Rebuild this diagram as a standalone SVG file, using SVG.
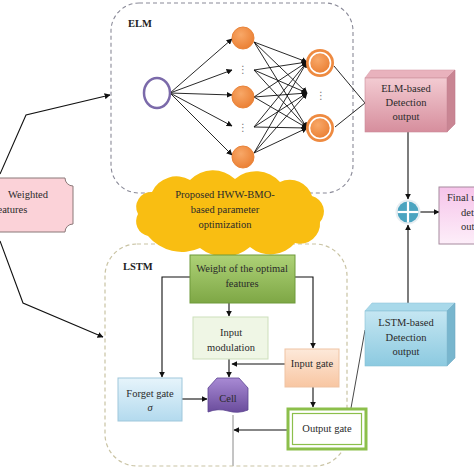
<svg xmlns="http://www.w3.org/2000/svg" width="474" height="474" viewBox="0 0 474 474">
<style>
text{font-family:"Liberation Serif","Times New Roman",serif;font-size:10.5px;fill:#2a2a2a}
.c{text-anchor:middle}
.b{font-weight:bold;fill:#222}
.ln{stroke:#111;stroke-width:1.1;fill:none}
.nn{stroke:#111;stroke-width:0.9;fill:none}
.nnA{stroke:#111;stroke-width:0.9;fill:none;marker-end:url(#ah)}
.arr{stroke:#111;stroke-width:1.1;fill:none;marker-end:url(#ah)}
.dots{font-family:"DejaVu Sans",sans-serif;font-size:10px;fill:#777}
</style>
<defs>
<marker id="ah" viewBox="0 0 10 10" refX="9" refY="5" markerWidth="6" markerHeight="6" markerUnits="userSpaceOnUse" orient="auto"><path d="M0,0 L10,5 L0,10 Z" fill="#111"/></marker>
<radialGradient id="orange" cx="0.4" cy="0.35" r="0.7"><stop offset="0" stop-color="#f8a868"/><stop offset="1" stop-color="#ea7e32"/></radialGradient>
<linearGradient id="pinkF" x1="0" y1="0" x2="0" y2="1"><stop offset="0" stop-color="#f3cbd2"/><stop offset="1" stop-color="#d68e9d"/></linearGradient>
<linearGradient id="blueF" x1="0" y1="0" x2="0" y2="1"><stop offset="0" stop-color="#c5e6f2"/><stop offset="1" stop-color="#8ccae0"/></linearGradient>
<linearGradient id="finalF" x1="0" y1="0" x2="0" y2="1"><stop offset="0" stop-color="#f6c4ea"/><stop offset="1" stop-color="#fdeef9"/></linearGradient>
<linearGradient id="greenF" x1="0" y1="0" x2="0" y2="1"><stop offset="0" stop-color="#aed277"/><stop offset="1" stop-color="#7ea745"/></linearGradient>
<linearGradient id="peachF" x1="0" y1="0" x2="0" y2="1"><stop offset="0" stop-color="#fde9da"/><stop offset="1" stop-color="#f8c6a2"/></linearGradient>
<linearGradient id="skyF" x1="0" y1="0" x2="0" y2="1"><stop offset="0" stop-color="#e6f4fb"/><stop offset="1" stop-color="#b3daee"/></linearGradient>
<linearGradient id="cellF" x1="0" y1="0" x2="0" y2="1"><stop offset="0" stop-color="#a88ad4"/><stop offset="1" stop-color="#6a4c9c"/></linearGradient>
</defs>

<rect width="474" height="474" fill="#ffffff"/>

<!-- ELM container -->
<g id="elm-box">
<rect x="111" y="3" width="242" height="190" rx="28" fill="none" stroke="#8a8a98" stroke-width="1.1" stroke-dasharray="4 3"/>
<text x="128" y="27" class="b">ELM</text>
</g>

<!-- connectors -->
<g id="connectors">
<polyline class="arr" points="0,174 26,115 110,95"/>
<polyline class="arr" points="0,241 23,303 103,337"/>
<line class="nnA" x1="170" y1="93" x2="232" y2="39"/>
<line class="nnA" x1="170" y1="93" x2="232" y2="70"/>
<line class="nnA" x1="170" y1="93" x2="232" y2="95"/>
<line class="nnA" x1="170" y1="93" x2="232" y2="126"/>
<line class="nnA" x1="170" y1="93" x2="232" y2="155"/>
<g>
<line class="nnA" x1="254" y1="42" x2="307" y2="62"/>
<line class="nnA" x1="254" y1="42" x2="307" y2="93"/>
<line class="nnA" x1="254" y1="42" x2="307" y2="128"/>
<line class="nnA" x1="254" y1="70" x2="307" y2="62"/>
<line class="nnA" x1="254" y1="70" x2="307" y2="93"/>
<line class="nnA" x1="254" y1="70" x2="307" y2="128"/>
<line class="nnA" x1="254" y1="97" x2="307" y2="62"/>
<line class="nnA" x1="254" y1="97" x2="307" y2="93"/>
<line class="nnA" x1="254" y1="97" x2="307" y2="128"/>
<line class="nnA" x1="254" y1="127" x2="307" y2="62"/>
<line class="nnA" x1="254" y1="127" x2="307" y2="93"/>
<line class="nnA" x1="254" y1="127" x2="307" y2="128"/>
<line class="nnA" x1="254" y1="153" x2="307" y2="62"/>
<line class="nnA" x1="254" y1="153" x2="307" y2="93"/>
<line class="nnA" x1="254" y1="153" x2="307" y2="128"/>
</g>
<polyline class="nn" points="334,66 365,103 335,127"/>
<line class="arr" x1="408" y1="132" x2="408" y2="199"/>
<line class="arr" x1="408" y1="303" x2="408" y2="225"/>
<line class="arr" x1="420" y1="212" x2="439" y2="212"/>
<polyline class="arr" points="190,277 162,277 162,377"/>
<line class="arr" x1="229" y1="303" x2="229" y2="316"/>
<polyline class="arr" points="295,277 313,277 313,348"/>
<line class="arr" x1="229" y1="359" x2="229" y2="377"/>
<line class="arr" x1="285" y1="364" x2="232" y2="364"/>
<line class="arr" x1="313" y1="387" x2="313" y2="407"/>
<line class="arr" x1="182" y1="399" x2="207" y2="399"/>
<line class="arr" x1="287" y1="430" x2="234" y2="430"/>
<line x1="233" y1="415" x2="233" y2="466" stroke="#8a8a8a" stroke-width="1"/>
<line x1="351" y1="408" x2="365" y2="330" stroke="#333" stroke-width="0.9"/>
</g>

<g id="input-neuron">
<ellipse cx="157" cy="93" rx="13" ry="15" fill="#ffffff" stroke="#7b6aaa" stroke-width="2.5"/>
</g>
<g id="hidden-neurons">
<circle cx="243" cy="38" r="11" fill="url(#orange)" stroke="#e9843a" stroke-width="1"/>
<circle cx="243" cy="97" r="11" fill="url(#orange)" stroke="#e9843a" stroke-width="1"/>
<circle cx="243" cy="157" r="11" fill="url(#orange)" stroke="#e9843a" stroke-width="1"/>
<text x="243" y="73" class="c dots">⋮</text>
<text x="243" y="131" class="c dots">⋮</text>
</g>
<g id="output-neurons">
<circle cx="320" cy="63" r="14" fill="#ee8a40"/>
<circle cx="320" cy="63" r="10.5" fill="url(#orange)" stroke="#ffffff" stroke-width="1.6"/>
<circle cx="320" cy="128" r="14" fill="#ee8a40"/>
<circle cx="320" cy="128" r="10.5" fill="url(#orange)" stroke="#ffffff" stroke-width="1.6"/>
<text x="321" y="99" class="c dots">⋮</text>
</g>

<g id="weighted-features">
<path d="M-10,178 L65,178 A8,8 0 0 0 73,186 L73,224 A8,8 0 0 0 65,232 L-10,232 Z" fill="#fbd2d8" stroke="#8a7878" stroke-width="1"/>
<text x="8" y="198">Weighted</text>
<text x="-6" y="213">features</text>
</g>

<g id="lstm-box">
<rect x="105" y="244" width="242" height="222" rx="32" fill="none" stroke="#c9c3a3" stroke-width="1.2" stroke-dasharray="4 3"/>
<text x="123" y="270" class="b">LSTM</text>
</g>

<g id="optimization-cloud">
<path d="M148,236 A15,15 0 0 1 138,214 A15,15 0 0 1 152,192 A27,27 0 0 1 190,180 A32,32 0 0 1 235,179 A32,32 0 0 1 280,182 A23,23 0 0 1 312,196 A16,16 0 0 1 320,222 A20,20 0 0 1 295,243 A32,32 0 0 1 250,247 A39,39 0 0 1 200,248 A44,44 0 0 1 148,236 Z" fill="#f9be12"/>
<text x="225" y="198" class="c">Proposed HWW-BMO-</text>
<text x="225" y="213" class="c">based parameter</text>
<text x="225" y="228" class="c">optimization</text>
</g>

<g id="elm-output">
<polygon points="365,78 371,70 455,70 447,78" fill="#e9b2bd" stroke="#d9a0ab" stroke-width="0.6"/>
<polygon points="447,78 455,70 455,124 447,132" fill="#c98593" stroke="#c07a8a" stroke-width="0.6"/>
<rect x="365" y="78" width="82" height="54" fill="url(#pinkF)" stroke="#c98a98" stroke-width="0.6"/>
<text x="406" y="92" class="c">ELM-based</text>
<text x="406" y="106" class="c">Detection</text>
<text x="406" y="120" class="c">output</text>
</g>

<g id="lstm-output">
<polygon points="365,311 372,303 455,303 447,311" fill="#a9d9ea" stroke="#94c8dc" stroke-width="0.6"/>
<polygon points="447,311 455,303 455,358 447,366" fill="#78b6ce" stroke="#6eaac4" stroke-width="0.6"/>
<rect x="365" y="311" width="82" height="55" fill="url(#blueF)" stroke="#86bfd4" stroke-width="0.6"/>
<text x="406" y="326" class="c">LSTM-based</text>
<text x="406" y="341" class="c">Detection</text>
<text x="406" y="355" class="c">output</text>
</g>

<g id="combiner">
<circle cx="408" cy="212" r="12.5" fill="#e8eef2"/>
<circle cx="408" cy="212" r="10.5" fill="#4ba4c0"/>
<line x1="397.5" y1="212" x2="418.5" y2="212" stroke="#ffffff" stroke-width="2.2"/>
<line x1="408" y1="201.5" x2="408" y2="222.5" stroke="#ffffff" stroke-width="2.2"/>
</g>

<g id="final-output">
<rect x="439" y="187" width="45" height="57" fill="url(#finalF)" stroke="#a68a9e" stroke-width="1"/>
<text x="447" y="201">Final u</text>
<text x="461" y="216">det</text>
<text x="461" y="230">out</text>
</g>

<g id="weight-optimal">
<rect x="190" y="255" width="105" height="48" fill="url(#greenF)" stroke="#6e9a3a" stroke-width="1"/>
<text x="242" y="272" class="c">Weight of the optimal</text>
<text x="242" y="287" class="c">features</text>
</g>
<g id="input-modulation">
<rect x="193" y="317" width="75" height="42" fill="#eff6e5" stroke="#cddfbb" stroke-width="1"/>
<text x="231" y="336" class="c">Input</text>
<text x="231" y="351" class="c">modulation</text>
</g>
<g id="input-gate">
<rect x="285" y="349" width="54" height="38" fill="url(#peachF)" stroke="#efc3a3" stroke-width="1"/>
<text x="312" y="367" class="c">Input gate</text>
</g>
<g id="output-gate">
<rect x="288" y="409" width="78" height="40" fill="#ffffff" stroke="#8cbf4b" stroke-width="3"/>
<rect x="292.5" y="413.5" width="69" height="31" fill="none" stroke="#8cbf4b" stroke-width="1.2"/>
<text x="327" y="432" class="c">Output gate</text>
</g>
<g id="forget-gate">
<rect x="118" y="378" width="64" height="43" fill="url(#skyF)" stroke="#9fc7db" stroke-width="1"/>
<text x="150" y="397" class="c">Forget gate</text>
<text x="150" y="411" class="c" font-style="italic">σ</text>
</g>
<g id="cell">
<path d="M208,388 L217,378 L239,378 L248,388 L248,410 Q238,414 228,411 Q218,408 208,412 Z" fill="url(#cellF)" stroke="#5c4490" stroke-width="0.8"/>
<text x="228" y="402" class="c">Cell</text>
</g>
</svg>
